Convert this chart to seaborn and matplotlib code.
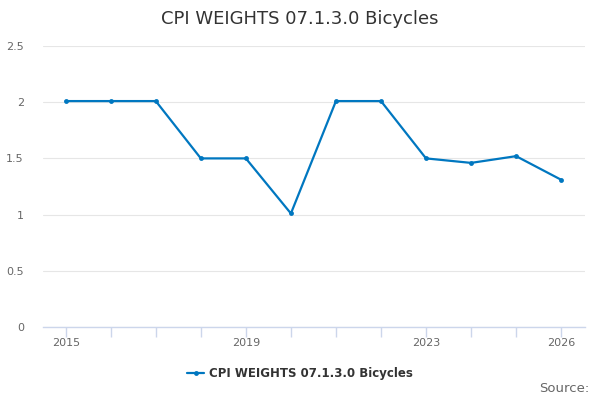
import pandas as pd
import matplotlib
matplotlib.use("Agg")
import matplotlib.pyplot as plt
import seaborn as sns

# Data
years = [2015, 2016, 2017, 2018, 2019, 2020, 2021, 2022, 2023, 2024, 2025, 2026]
weights = [2.01, 2.01, 2.01, 1.50, 1.50, 1.01, 2.01, 2.01, 1.50, 1.46, 1.52, 1.31]
series_name = "CPI WEIGHTS 07.1.3.0 Bicycles"
label_years = [2015, 2019, 2023, 2026]

df = pd.DataFrame({"year": years, "value": weights, "series": series_name})

sns.set_theme(style="white")
plt.rcParams["font.family"] = ["DejaVu Sans"]

fig = plt.figure(figsize=(6, 4), dpi=100)
ax = fig.add_axes([0.072, 0.1825, 0.903, 0.7025])

line_color = "#0077c0"
sns.lineplot(data=df, x="year", y="value", hue="series", palette=[line_color],
             marker="o", markersize=3.5, markeredgewidth=0, linewidth=1.6, ax=ax)

ax.set_xlim(2014.5, 2026.53)
ax.set_ylim(0, 2.5)
ax.set_yticks([0, 0.5, 1, 1.5, 2, 2.5])
ax.set_yticklabels(["0", "0.5", "1", "1.5", "2", "2.5"])
ax.set_xticks(years)
ax.set_xticklabels([str(y) if y in label_years else "" for y in years])
ax.yaxis.grid(True, color="#e6e6e6", linewidth=0.8)
ax.set_axisbelow(True)

for s in ["top", "right", "left"]:
    ax.spines[s].set_visible(False)
ax.spines["bottom"].set_color("#ccd6eb")
ax.spines["bottom"].set_linewidth(1)

ax.tick_params(axis="x", direction="out", length=7, width=1, color="#ccd6eb",
               labelsize=8, labelcolor="#666666", bottom=True, pad=1)
ax.tick_params(axis="y", length=0, labelsize=8, labelcolor="#666666", pad=14)
ax.set_xlabel("")
ax.set_ylabel("")

fig.suptitle(series_name, x=0.5, y=0.975, fontsize=13, color="#333333")

leg = ax.legend(loc="upper center", bbox_to_anchor=(0.5, 0.108),
                bbox_transform=fig.transFigure, frameon=False,
                fontsize=8.5, handlelength=1.4, handletextpad=0.4)
for t in leg.get_texts():
    t.set_fontweight("bold")
    t.set_color("#333333")

fig.text(0.982, 0.012, "Source:", ha="right", va="bottom", fontsize=9.5, color="#666666")

fig.savefig("out.png", dpi=100)
